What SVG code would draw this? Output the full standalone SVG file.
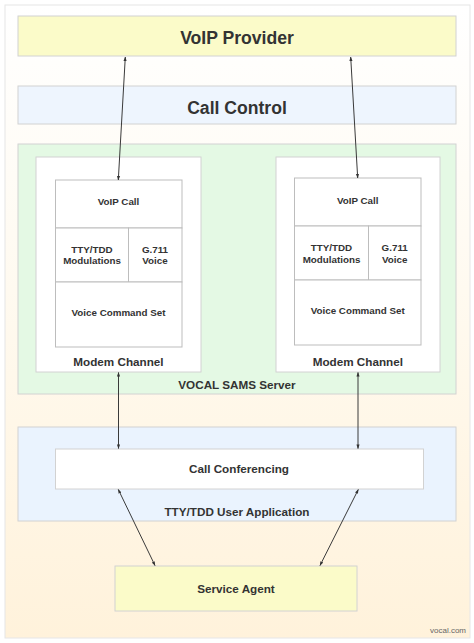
<svg xmlns="http://www.w3.org/2000/svg" width="474" height="643" viewBox="0 0 474 643">
<defs>
<linearGradient id="bg" x1="0" y1="0" x2="0" y2="1">
<stop offset="0" stop-color="#ffffff"/>
<stop offset="0.45" stop-color="#fffaf0"/>
<stop offset="1" stop-color="#fff2db"/>
</linearGradient>
<marker id="ah" viewBox="0 0 10 10" refX="9" refY="5" markerWidth="4.5" markerHeight="4.5" markerUnits="userSpaceOnUse" orient="auto-start-reverse">
<path d="M0,1.5 L10,5 L0,8.5 Z" fill="#333"/>
</marker>
<style>
.t{font-family:"Liberation Sans",Arial,sans-serif;font-weight:bold;fill:#333;text-anchor:middle}
.big{font-size:17.6px}
.mid{font-size:11.7px}
.sm{font-size:9.8px}
.box{stroke:#d2d2d2;stroke-width:1}
.cell{fill:#fff;stroke:#bdbdbd;stroke-width:1}
.c{stroke:#3a3a3a;stroke-width:1;fill:none;marker-start:url(#ah);marker-end:url(#ah)}
</style>
</defs>
<rect id="background" x="5" y="5" width="465" height="633" fill="url(#bg)" stroke="#e6e6e6"/>
<g id="voip-provider">
<rect class="box" x="18" y="16" width="438" height="40" fill="#fbfbc9"/>
<text class="t big" x="237" y="44">VoIP Provider</text>
</g>
<g id="call-control">
<rect class="box" x="18" y="86" width="438" height="38" fill="#eef5fe"/>
<text class="t big" x="237" y="114">Call Control</text>
</g>
<g id="sams-server">
<rect class="box" x="18" y="144" width="438" height="250" fill="#e4f9e4"/>
<text class="t mid" x="237" y="388.5">VOCAL SAMS Server</text>
</g>
<g id="modem-left">
<rect class="box" x="36" y="157" width="165" height="215" fill="#fff"/>
<rect class="cell" x="55.5" y="180" width="126.5" height="48"/>
<rect class="cell" x="55.5" y="228" width="73" height="54"/>
<rect class="cell" x="128.5" y="228" width="53.5" height="54"/>
<rect class="cell" x="55.5" y="282" width="126.5" height="65"/>
<text class="t sm" x="118.5" y="205.2">VoIP Call</text>
<text class="t sm" x="92" y="252.5">TTY/TDD</text>
<text class="t sm" x="92" y="264.2">Modulations</text>
<text class="t sm" x="155" y="252.5">G.711</text>
<text class="t sm" x="155" y="264.2">Voice</text>
<text class="t sm" x="118.5" y="316.2">Voice Command Set</text>
<text class="t mid" x="118.5" y="366">Modem Channel</text>
</g>
<g id="modem-right">
<rect class="box" x="276" y="157" width="164" height="215" fill="#fff"/>
<rect class="cell" x="294.5" y="178" width="126.5" height="48"/>
<rect class="cell" x="294.5" y="226" width="74" height="54"/>
<rect class="cell" x="368.5" y="226" width="52.5" height="54"/>
<rect class="cell" x="294.5" y="280" width="126.5" height="65"/>
<text class="t sm" x="357.7" y="203.5">VoIP Call</text>
<text class="t sm" x="331.5" y="250.5">TTY/TDD</text>
<text class="t sm" x="331.5" y="262.5">Modulations</text>
<text class="t sm" x="394.7" y="250.5">G.711</text>
<text class="t sm" x="394.7" y="262.5">Voice</text>
<text class="t sm" x="357.7" y="313.5">Voice Command Set</text>
<text class="t mid" x="357.8" y="366">Modem Channel</text>
</g>
<g id="user-application">
<rect class="box" x="18" y="427" width="438" height="94" fill="#eaf3fe"/>
<text class="t mid" x="237" y="515.9">TTY/TDD User Application</text>
</g>
<g id="call-conferencing">
<rect class="box" x="55.5" y="449" width="368" height="40" fill="#fff" stroke="#e4e4e4"/>
<text class="t mid" x="239" y="473.2">Call Conferencing</text>
</g>
<g id="service-agent">
<rect class="box" x="115" y="566" width="242" height="45" fill="#fbfbc9"/>
<text class="t mid" x="236" y="592.9">Service Agent</text>
</g>
<g id="connectors">
<line class="c" x1="118.3" y1="180" x2="125.3" y2="57"/>
<line class="c" x1="357.7" y1="178" x2="350.7" y2="57"/>
<line class="c" x1="118.5" y1="372.5" x2="118.5" y2="448.5"/>
<line class="c" x1="358" y1="372.5" x2="358" y2="448.5"/>
<line class="c" x1="118.3" y1="489.5" x2="155" y2="565.5"/>
<line class="c" x1="358.3" y1="489.5" x2="320" y2="565.5"/>
</g>
<text x="466" y="633" font-family="Liberation Sans, Arial, sans-serif" font-size="8" fill="#666" text-anchor="end">vocal.com</text>
</svg>
